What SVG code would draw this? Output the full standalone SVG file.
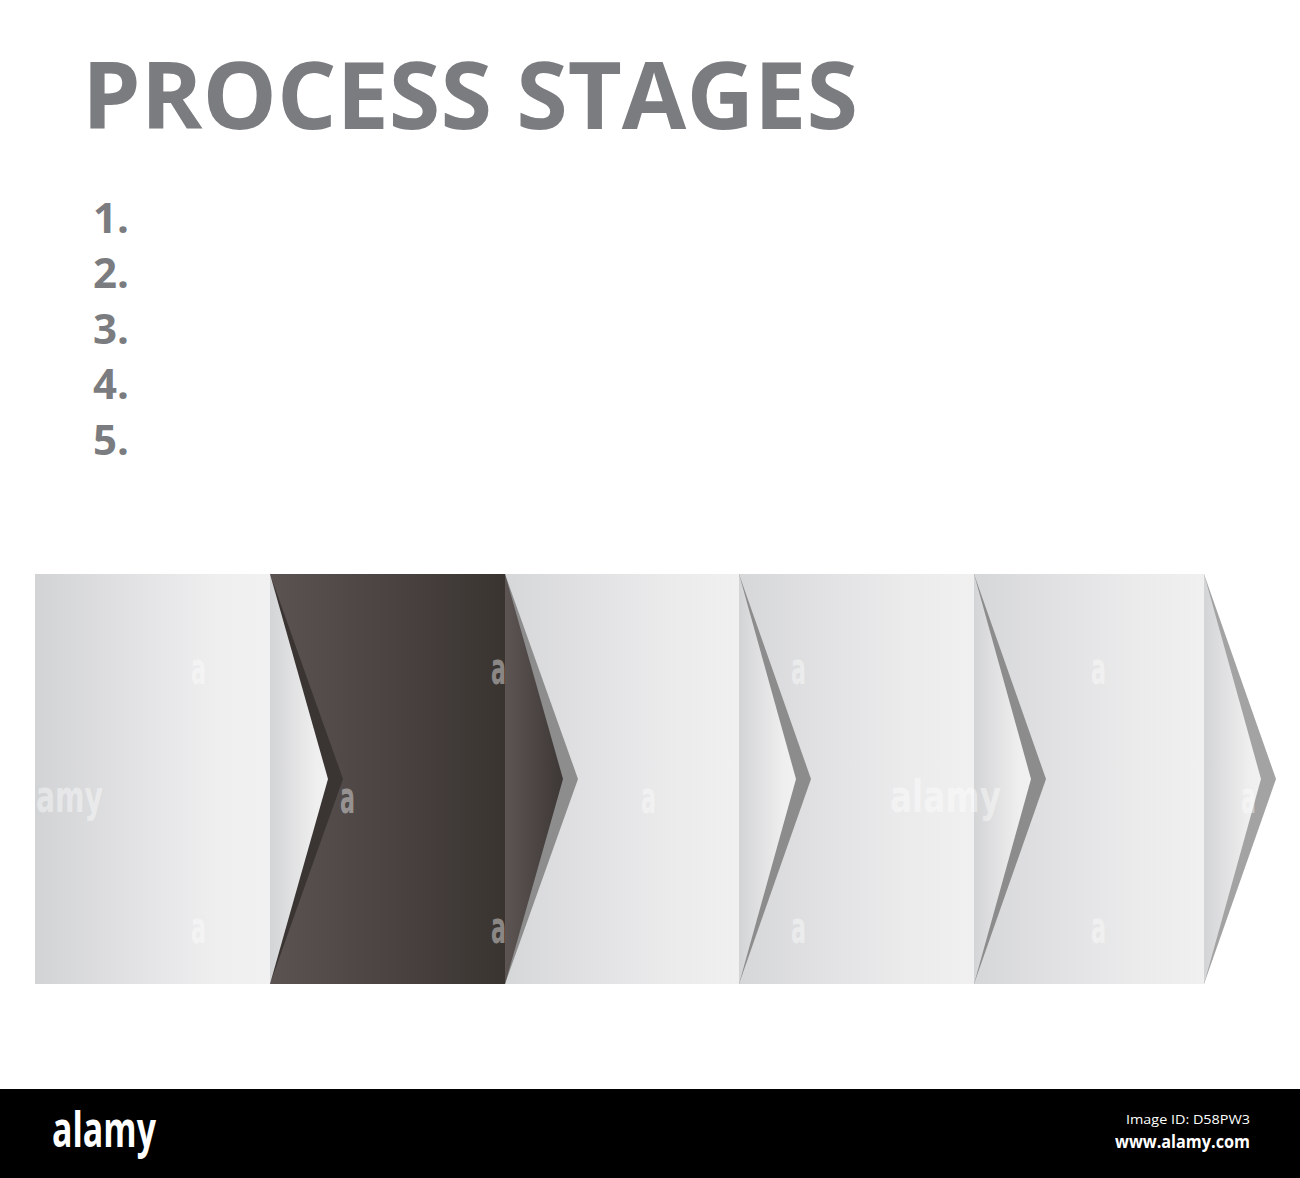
<svg xmlns="http://www.w3.org/2000/svg" width="1300" height="1178" viewBox="0 0 1300 1178">
  <defs>
    <linearGradient id="gLight1" x1="0" y1="0" x2="1" y2="0">
      <stop offset="0" stop-color="#d2d3d5"/>
      <stop offset="0.75" stop-color="#eeeeef"/>
      <stop offset="1" stop-color="#f1f1f1"/>
    </linearGradient>
    <linearGradient id="gLight" x1="0" y1="0" x2="1" y2="0">
      <stop offset="0" stop-color="#d6d7d9"/>
      <stop offset="0.7" stop-color="#ebebec"/>
      <stop offset="1" stop-color="#f0f0f0"/>
    </linearGradient>
    <linearGradient id="gDark" x1="0" y1="0" x2="1" y2="0">
      <stop offset="0" stop-color="#5a5352"/>
      <stop offset="1" stop-color="#3a3431"/>
    </linearGradient>
    <linearGradient id="gTipLight" x1="0" y1="0" x2="1" y2="0">
      <stop offset="0" stop-color="#d3d4d6"/>
      <stop offset="0.8" stop-color="#efefef"/>
      <stop offset="1" stop-color="#f1f1f1"/>
    </linearGradient>
    <linearGradient id="gTipDark" x1="0" y1="0" x2="1" y2="0">
      <stop offset="0" stop-color="#5c5554"/>
      <stop offset="1" stop-color="#3d3735"/>
    </linearGradient>
    <style>
      .title { font-family: "Open Sans", "Liberation Sans", sans-serif; font-weight: 700; fill: #7b7c80; }
      .num { font-family: "Open Sans", "Liberation Sans", sans-serif; font-weight: 700; font-size: 42px; fill: #7b7c80; }
      .shadowLight { fill: #8c8c8c; }
      .shadowEnd { fill: #a3a3a3; }
      .shadowDark { fill: #3a3433; }
      .wm { font-family: "DejaVu Sans", "Liberation Sans", sans-serif; font-weight: 700; font-size: 44px; fill: #ffffff; fill-opacity: 0.42; }
      .banner { font-family: "Open Sans", "DejaVu Sans", sans-serif; fill: #ffffff; }
    </style>
  </defs>

  <rect x="0" y="0" width="1300" height="1178" fill="#ffffff"/>

  <g id="title">
    <text class="title" x="82" y="129" font-size="94" textLength="776" lengthAdjust="spacingAndGlyphs">PROCESS STAGES</text>
  </g>

  <g id="list">
    <text class="num" x="93" y="233">1.</text>
    <text class="num" x="93" y="288">2.</text>
    <text class="num" x="93" y="344">3.</text>
    <text class="num" x="93" y="399">4.</text>
    <text class="num" x="93" y="455">5.</text>
  </g>

  <!-- stages drawn right to left so each tip overlaps the next stage -->
  <g id="stage5">
    <rect x="974" y="574" width="230" height="410" fill="url(#gLight)"/>
    <polygon class="shadowEnd" points="1204,574 1276,779 1204,984"/>
    <polygon points="1204,574 1261,779 1204,984" fill="url(#gTipLight)"/>
  </g>
  <g id="stage4">
    <rect x="739" y="574" width="235" height="410" fill="url(#gLight)"/>
    <polygon class="shadowLight" points="974,574 1046,779 974,984"/>
    <polygon points="974,574 1031,779 974,984" fill="url(#gTipLight)"/>
  </g>
  <g id="stage3">
    <rect x="505" y="574" width="234" height="410" fill="url(#gLight)"/>
    <polygon class="shadowLight" points="739,574 811,779 739,984"/>
    <polygon points="739,574 796,779 739,984" fill="url(#gTipLight)"/>
  </g>
  <g id="stage2">
    <rect x="270" y="574" width="235" height="410" fill="url(#gDark)"/>
    <polygon fill="#8d8d8d" points="505,574 578,779 505,984"/>
    <polygon points="505,574 563,779 505,984" fill="url(#gTipDark)"/>
  </g>
  <g id="stage1">
    <rect x="35" y="574" width="235" height="410" fill="url(#gLight1)"/>
    <polygon class="shadowDark" points="270,574 343,779 270,984"/>
    <polygon points="270,574 328,779 270,984" fill="url(#gTipLight)"/>
  </g>

  <g id="watermarks">
    <text class="wm" x="191" y="684" textLength="15" lengthAdjust="spacingAndGlyphs">a</text>
    <text class="wm" x="191" y="943" textLength="15" lengthAdjust="spacingAndGlyphs">a</text>
    <text class="wm" x="491" y="684" textLength="15" lengthAdjust="spacingAndGlyphs">a</text>
    <text class="wm" x="491" y="943" textLength="15" lengthAdjust="spacingAndGlyphs">a</text>
    <text class="wm" x="791" y="684" textLength="15" lengthAdjust="spacingAndGlyphs">a</text>
    <text class="wm" x="791" y="943" textLength="15" lengthAdjust="spacingAndGlyphs">a</text>
    <text class="wm" x="1091" y="684" textLength="15" lengthAdjust="spacingAndGlyphs">a</text>
    <text class="wm" x="1091" y="943" textLength="15" lengthAdjust="spacingAndGlyphs">a</text>
    <text class="wm" x="340" y="813" textLength="15" lengthAdjust="spacingAndGlyphs">a</text>
    <text class="wm" x="641" y="813" textLength="15" lengthAdjust="spacingAndGlyphs">a</text>
    <text class="wm" x="1241" y="813" textLength="15" lengthAdjust="spacingAndGlyphs">a</text>
    <text class="wm" x="890" y="812" textLength="111" lengthAdjust="spacingAndGlyphs">alamy</text>
    <text class="wm" x="36" y="812" textLength="67" lengthAdjust="spacingAndGlyphs">amy</text>
  </g>

  <g id="banner">
    <rect x="0" y="1089" width="1300" height="89" fill="#000000"/>
    <text class="banner" x="52" y="1147" font-family="DejaVu Sans" font-weight="700" font-size="48" textLength="104" lengthAdjust="spacingAndGlyphs">alamy</text>
    <text class="banner" x="1250" y="1124" font-size="13" text-anchor="end" fill="#dddddd" textLength="124" lengthAdjust="spacingAndGlyphs">Image ID: D58PW3</text>
    <text class="banner" x="1250" y="1148" font-size="17" font-weight="700" text-anchor="end" textLength="135" lengthAdjust="spacingAndGlyphs">www.alamy.com</text>
  </g>
</svg>
